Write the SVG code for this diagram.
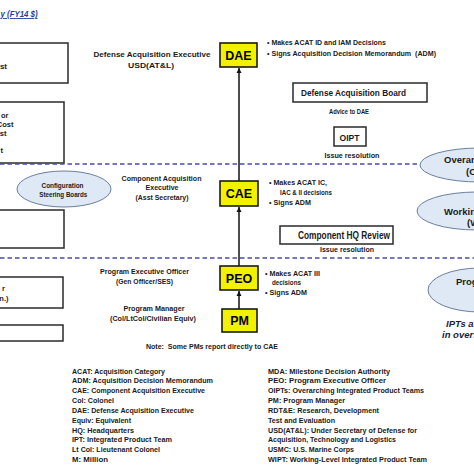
<svg xmlns="http://www.w3.org/2000/svg" width="474" height="474" viewBox="0 0 474 474">
<style>
.t{font-family:"Liberation Sans",Arial,sans-serif;font-weight:bold;fill:#1a1a1a}
.s7{font-size:7.5px}
.s8{font-size:8px}
.s9{font-size:9.5px}
.big{font-size:12.5px;fill:#000}
.box{fill:#fff;stroke:#2a2a2a;stroke-width:1.5}
.ybox{fill:#f2f200;stroke:#1a1a1a;stroke-width:1.6}
.ell{fill:#dfe9f5;stroke:#6b7f9c;stroke-width:1}
.dash{stroke:#4b4ba8;stroke-width:1.6;stroke-dasharray:4.5 3;fill:none}
.ln{stroke:#111;stroke-width:1.5;fill:none}
.it{font-style:italic;fill:#1c1c3c}
</style>
<defs>
<marker id="ah" viewBox="0 0 10 10" refX="10" refY="5" markerUnits="userSpaceOnUse" markerWidth="5" markerHeight="6" orient="auto">
<path d="M0,0 L10,5 L0,10 z" fill="#111"/>
</marker>
</defs>
<rect width="474" height="474" fill="#fff"/>

<text class="t s9" x="0.5" y="17" textLength="37" lengthAdjust="spacingAndGlyphs" style="fill:#2340a0;font-style:italic;text-decoration:underline;font-size:9px">y (FY14 $)</text>

<!-- left clipped boxes -->
<g id="left1"><rect class="box" x="-2" y="43" width="70" height="40"/><text class="t s8" x="7" y="69" text-anchor="end">st</text></g>
<g id="left2"><rect class="box" x="-2" y="102" width="66" height="61"/>
<text class="t s7" x="8.5" y="118" text-anchor="end">or</text>
<text class="t s7" x="13.5" y="126.5" text-anchor="end">Cost</text>
<text class="t s7" x="6.5" y="135.5" text-anchor="end">st</text>
<text class="t s7" x="3" y="153" text-anchor="end">t</text></g>
<g id="left3"><rect class="box" x="-2" y="210" width="66" height="38"/></g>
<g id="left4"><rect class="box" x="-2" y="277" width="65" height="31"/>
<text class="t s7" x="5" y="291" text-anchor="end">r</text>
<text class="t s7" x="8.5" y="300.5" text-anchor="end">n.)</text></g>
<g id="left5"><rect class="box" x="-2" y="325" width="65" height="16"/></g>

<!-- dashed separators -->
<g id="separators">
<line class="dash" x1="0" y1="164" x2="421" y2="164"/>
<line class="dash" x1="0" y1="258" x2="474" y2="258"/>
</g>

<!-- connectors -->
<g id="connectors">
<line class="ln" x1="239" y1="309" x2="239" y2="291" marker-end="url(#ah)"/>
<line class="ln" x1="239" y1="266" x2="239" y2="207" marker-end="url(#ah)"/>
<line class="ln" x1="239" y1="181" x2="239" y2="68" marker-end="url(#ah)"/>
</g>

<!-- DAE -->
<g id="dae">
<rect class="ybox" x="220" y="43" width="37" height="24"/>
<text class="t big" x="238.5" y="59.5" text-anchor="middle">DAE</text>
<text class="t s8" x="152" y="57" text-anchor="middle" textLength="117" lengthAdjust="spacingAndGlyphs">Defense Acquisition Executive</text>
<text class="t s8" x="151" y="67.5" text-anchor="middle" textLength="46" lengthAdjust="spacingAndGlyphs">USD(AT&amp;L)</text>
<text class="t s7" x="267" y="45" textLength="119" lengthAdjust="spacingAndGlyphs">• Makes ACAT ID and IAM Decisions</text>
<text class="t s7" x="267" y="55.5" textLength="169" lengthAdjust="spacingAndGlyphs">• Signs Acquisition Decision Memorandum &#160;(ADM)</text>
</g>

<g id="dab">
<rect class="box" x="293" y="83" width="134" height="19"/>
<text class="t s9" x="301" y="96" textLength="105" lengthAdjust="spacingAndGlyphs">Defense Acquisition Board</text>
<text class="t s7" x="349" y="113.5" text-anchor="middle" textLength="40" lengthAdjust="spacingAndGlyphs">Advice to DAE</text>
</g>

<g id="oipt">
<rect class="box" x="334" y="127" width="32" height="19"/>
<text class="t s9" x="349.5" y="140.5" text-anchor="middle" textLength="20" lengthAdjust="spacingAndGlyphs">OIPT</text>
<text class="t s7" x="352" y="157.5" text-anchor="middle" textLength="55" lengthAdjust="spacingAndGlyphs">Issue resolution</text>
</g>

<g id="overarching">
<ellipse class="ell" cx="480" cy="165" rx="60" ry="17"/>
<text class="t s9" x="444" y="163">Overarching IPTs</text>
<text class="t s9" x="466" y="175">(OIPTs)</text>
</g>

<g id="csb">
<ellipse class="ell" cx="64" cy="189" rx="47" ry="18"/>
<text class="t" x="62.5" y="187.5" text-anchor="middle" font-size="7" textLength="42" lengthAdjust="spacingAndGlyphs">Configuration</text>
<text class="t" x="63.3" y="196.5" text-anchor="middle" font-size="7" textLength="48" lengthAdjust="spacingAndGlyphs">Steering Boards</text>
</g>

<!-- CAE -->
<g id="cae">
<rect class="ybox" x="220" y="181" width="38" height="25"/>
<text class="t big" x="239" y="198" text-anchor="middle">CAE</text>
<text class="t s7" x="161.5" y="180.5" text-anchor="middle" textLength="80" lengthAdjust="spacingAndGlyphs">Component Acquisition</text>
<text class="t s7" x="162" y="189.5" text-anchor="middle" textLength="33" lengthAdjust="spacingAndGlyphs">Executive</text>
<text class="t s7" x="162" y="199.5" text-anchor="middle" textLength="53" lengthAdjust="spacingAndGlyphs">(Asst Secretary)</text>
<text class="t s7" x="269" y="185" textLength="58" lengthAdjust="spacingAndGlyphs">• Makes ACAT IC,</text>
<text class="t s7" x="280" y="195" textLength="52" lengthAdjust="spacingAndGlyphs">IAC &amp; II decisions</text>
<text class="t s7" x="269" y="205" textLength="42" lengthAdjust="spacingAndGlyphs">• Signs ADM</text>
</g>

<g id="working">
<ellipse class="ell" cx="477" cy="211" rx="60" ry="19"/>
<text class="t s9" x="444" y="215">Working IPTs</text>
<text class="t s9" x="467" y="226">(WIPTs)</text>
</g>

<g id="hq">
<rect class="box" x="280" y="226" width="113" height="18"/>
<text class="t" font-size="10" x="344" y="238.5" text-anchor="middle" textLength="92" lengthAdjust="spacingAndGlyphs">Component HQ Review</text>
<text class="t s7" x="347" y="252" text-anchor="middle" textLength="54" lengthAdjust="spacingAndGlyphs">Issue resolution</text>
</g>

<!-- PEO -->
<g id="peo">
<rect class="ybox" x="220" y="266" width="38" height="24"/>
<text class="t big" x="239" y="282.5" text-anchor="middle">PEO</text>
<text class="t s7" x="144.5" y="273.5" text-anchor="middle" textLength="89" lengthAdjust="spacingAndGlyphs">Program Executive Officer</text>
<text class="t s7" x="144.5" y="283.5" text-anchor="middle" textLength="57" lengthAdjust="spacingAndGlyphs">(Gen Officer/SES)</text>
<text class="t s7" x="265" y="275.5" textLength="55" lengthAdjust="spacingAndGlyphs">• Makes ACAT III</text>
<text class="t s7" x="272" y="285" textLength="29" lengthAdjust="spacingAndGlyphs">decisions</text>
<text class="t s7" x="265" y="294.5" textLength="42" lengthAdjust="spacingAndGlyphs">• Signs ADM</text>
</g>

<g id="program">
<ellipse class="ell" cx="480" cy="290" rx="52" ry="22"/>
<text class="t s9" x="456" y="285">Program IPTs</text>
<text class="t s9 it" x="446" y="327">IPTs assist</text>
<text class="t s9 it" x="442" y="338">in oversight</text>
</g>

<!-- PM -->
<g id="pm">
<rect class="ybox" x="222" y="309" width="35" height="23"/>
<text class="t big" x="239.5" y="325" text-anchor="middle">PM</text>
<text class="t s7" x="154" y="311" text-anchor="middle" textLength="61" lengthAdjust="spacingAndGlyphs">Program Manager</text>
<text class="t s7" x="153" y="320.5" text-anchor="middle" textLength="86" lengthAdjust="spacingAndGlyphs">(Col/LtCol/Civilian Equiv)</text>
</g>

<text class="t s7" x="146" y="348.5" textLength="132" lengthAdjust="spacingAndGlyphs">Note: &#160;Some PMs report directly to CAE</text>

<!-- legend -->
<g id="legend" class="t s8">
<text class="t s8" x="72" y="373.5" textLength="93" lengthAdjust="spacingAndGlyphs">ACAT: Acquisition Category</text>
<text class="t s8" x="72" y="383.3" textLength="141" lengthAdjust="spacingAndGlyphs">ADM: Acquisition Decision Memorandum</text>
<text class="t s8" x="72" y="393.2" textLength="133" lengthAdjust="spacingAndGlyphs">CAE: Component Acquisition Executive</text>
<text class="t s8" x="72" y="403" textLength="42" lengthAdjust="spacingAndGlyphs">Col: Colonel</text>
<text class="t s8" x="72" y="412.8" textLength="122" lengthAdjust="spacingAndGlyphs">DAE: Defense Acquisition Executive</text>
<text class="t s8" x="72" y="422.7" textLength="59" lengthAdjust="spacingAndGlyphs">Equiv: Equivalent</text>
<text class="t s8" x="72" y="432.5" textLength="62" lengthAdjust="spacingAndGlyphs">HQ: Headquarters</text>
<text class="t s8" x="72" y="442.3" textLength="100" lengthAdjust="spacingAndGlyphs">IPT: Integrated Product Team</text>
<text class="t s8" x="72" y="452.2" textLength="88" lengthAdjust="spacingAndGlyphs">Lt Col: Lieutenant Colonel</text>
<text class="t s8" x="72" y="462" textLength="36" lengthAdjust="spacingAndGlyphs">M: Million</text>
<text class="t s8" x="268" y="373.5" textLength="122" lengthAdjust="spacingAndGlyphs">MDA: Milestone Decision Authority</text>
<text class="t s8" x="268" y="383.3" textLength="118" lengthAdjust="spacingAndGlyphs">PEO: Program Executive Officer</text>
<text class="t s8" x="268" y="393.2" textLength="156" lengthAdjust="spacingAndGlyphs">OIPTs: Overarching Integrated Product Teams</text>
<text class="t s8" x="268" y="403" textLength="77" lengthAdjust="spacingAndGlyphs">PM: Program Manager</text>
<text class="t s8" x="268" y="412.8" textLength="111" lengthAdjust="spacingAndGlyphs">RDT&amp;E: Research, Development</text>
<text class="t s8" x="268" y="422.7" textLength="67" lengthAdjust="spacingAndGlyphs">Test and Evaluation</text>
<text class="t s8" x="268" y="432.5" textLength="149" lengthAdjust="spacingAndGlyphs">USD(AT&amp;L): Under Secretary of Defense for</text>
<text class="t s8" x="268" y="442.3" textLength="128" lengthAdjust="spacingAndGlyphs">Acquisition, Technology and Logistics</text>
<text class="t s8" x="268" y="452.2" textLength="86" lengthAdjust="spacingAndGlyphs">USMC: U.S. Marine Corps</text>
<text class="t s8" x="268" y="462" textLength="159" lengthAdjust="spacingAndGlyphs">WIPT: Working-Level Integrated Product Team</text>
</g>
</svg>
